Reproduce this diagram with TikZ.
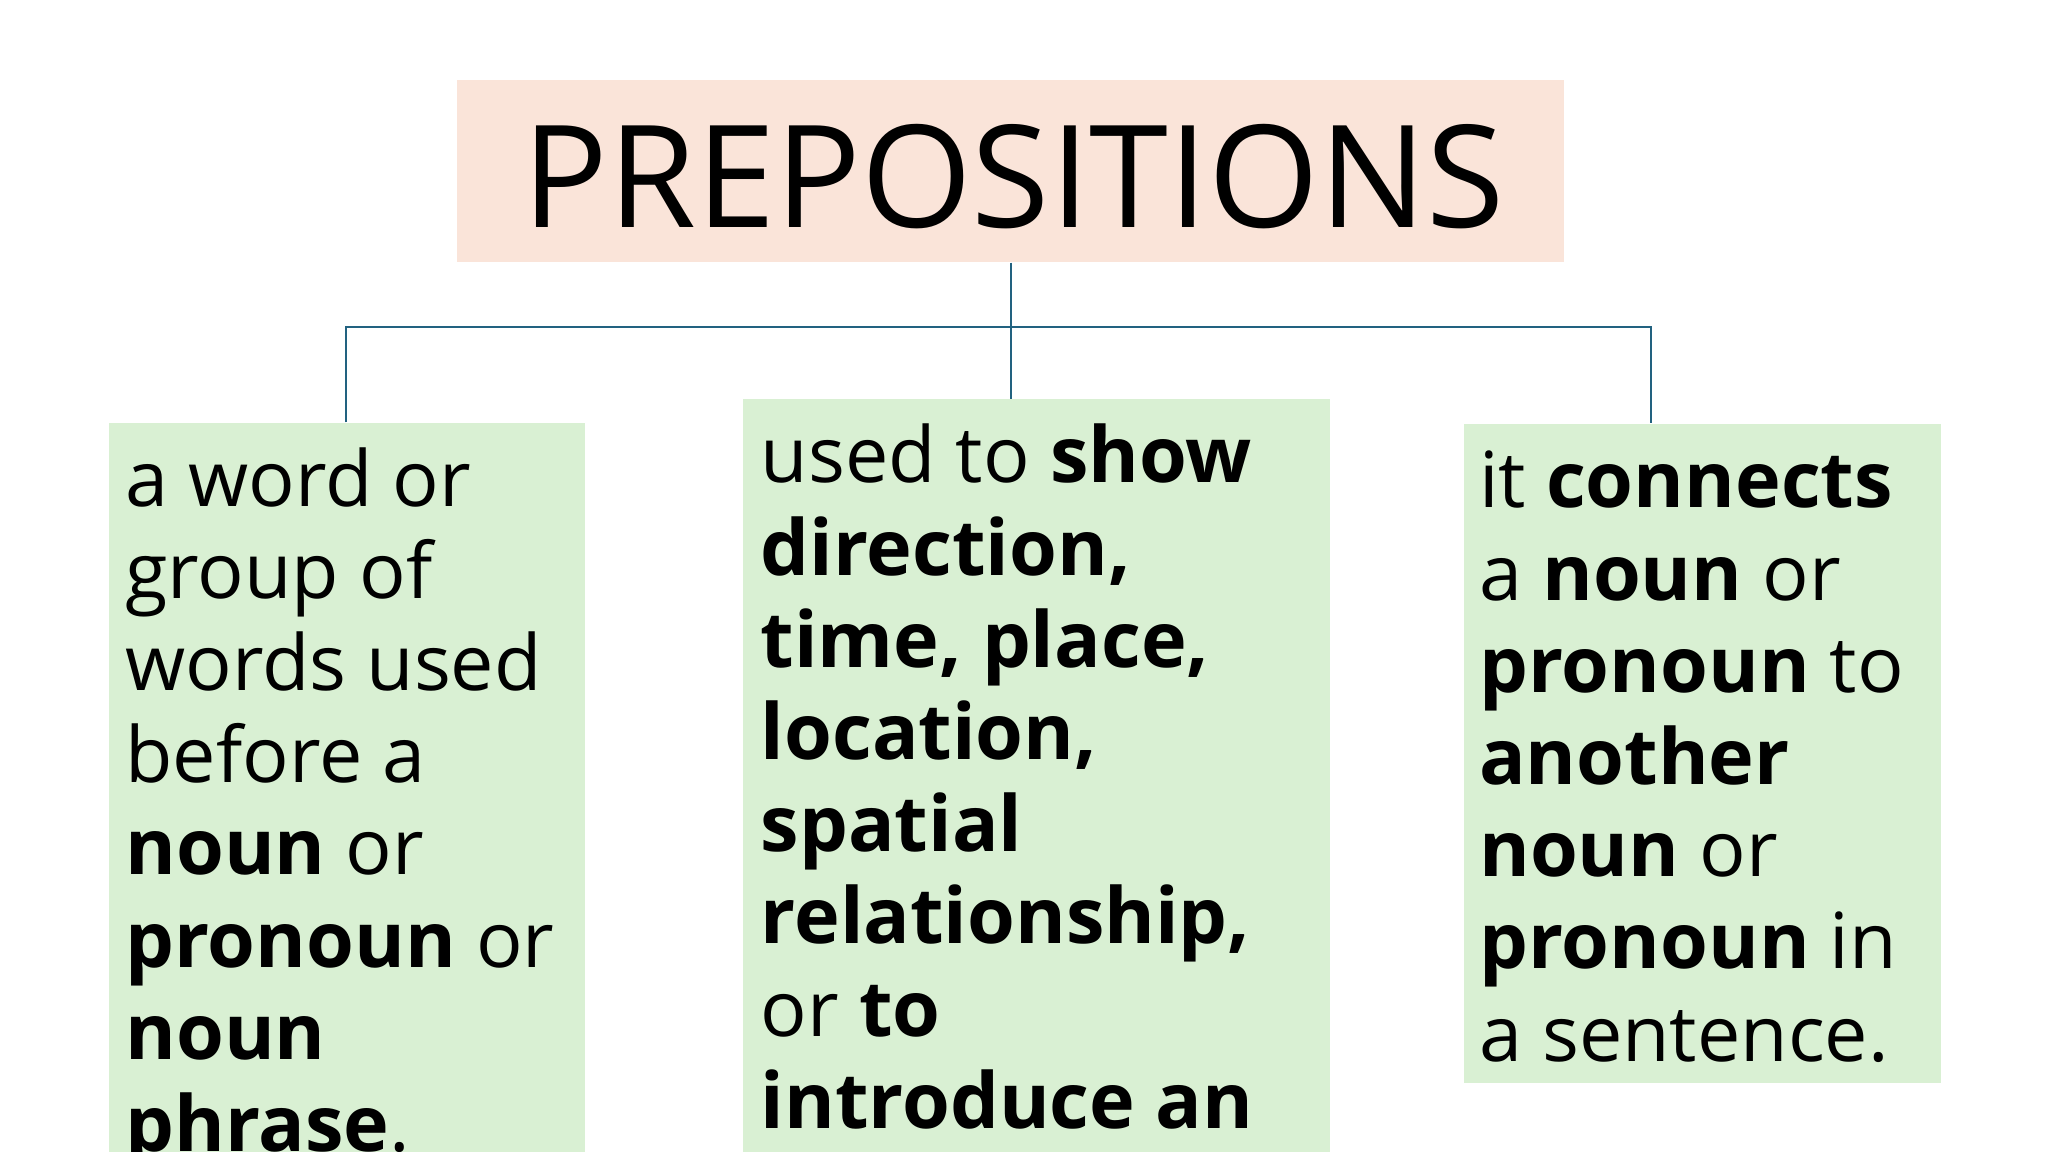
\documentclass[tikz,border=0pt]{standalone}
\usepackage{fontspec}
\setmainfont{Open Sans}
\definecolor{peach}{RGB}{250,228,217}
\definecolor{leaf}{RGB}{217,240,211}
\definecolor{wire}{RGB}{34,98,128}
\tikzset{
  card/.style={fill=leaf, draw=none, inner sep=0pt, anchor=north west, rectangle},
  headbox/.style={fill=peach, draw=none, inner sep=0pt, anchor=north west, rectangle},
  body/.style={inner sep=0pt, anchor=base west, text=black},
  link/.style={draw=wire, line width=1.5pt}
}
\newcommand{\bodyfont}{\fontsize{59.2}{70.6}\selectfont}
\begin{document}
\begin{tikzpicture}[x=1pt,y=-1pt]
\useasboundingbox[fill=white] (0,0) rectangle (1568,882);
% boxes
\node[headbox, minimum width=847pt, minimum height=140pt] (title) at (350,60.7) {};
\node[card, minimum width=365pt, minimum height=580pt] (left) at (83,323.4) {};
\node[card, minimum width=449.4pt, minimum height=600pt] (mid) at (569,305.6) {};
\node[card, minimum width=365pt, minimum height=504.6pt] (right) at (1120.6,324.2) {};
% title text
\node[inner sep=0pt, anchor=base] (ttext) at (776,174.5) {\fontsize{109}{120}\selectfont PREPOSITIONS};
% connectors
\coordinate (hl) at (264.7,250.2);
\coordinate (hr) at (1264,250.2);
\draw[link] (title.south) -- (title.south |- mid.north);
\draw[link] (hl |- left.north) -- (hl) -- (hr) -- (hr |- right.north);
% texts
\node[body] (ltext) at (95.8,387.5) {\parbox[t]{340pt}{\bodyfont\raggedright
a word or\\
group of\\
words used\\
before a\\
\textbf{noun} or\\
\textbf{pronoun} or\\
\textbf{noun}\\
\textbf{phrase}.}};
\node[body] (mtext) at (582.3,369.7) {\parbox[t]{430pt}{\bodyfont\raggedright
used to \textbf{show}\\
\textbf{direction,}\\
\textbf{time, place,}\\
\textbf{location,}\\
\textbf{spatial}\\
\textbf{relationship,}\\
or \textbf{to}\\
\textbf{introduce an}}};
\node[body] (rtext) at (1132.3,388.8) {\parbox[t]{350pt}{\bodyfont\raggedright
it \textbf{connects}\\
a \textbf{noun} or\\
\textbf{pronoun} to\\
\textbf{another}\\
\textbf{noun} or\\
\textbf{pronoun} in\\
a sentence.}};
\end{tikzpicture}
\end{document}
